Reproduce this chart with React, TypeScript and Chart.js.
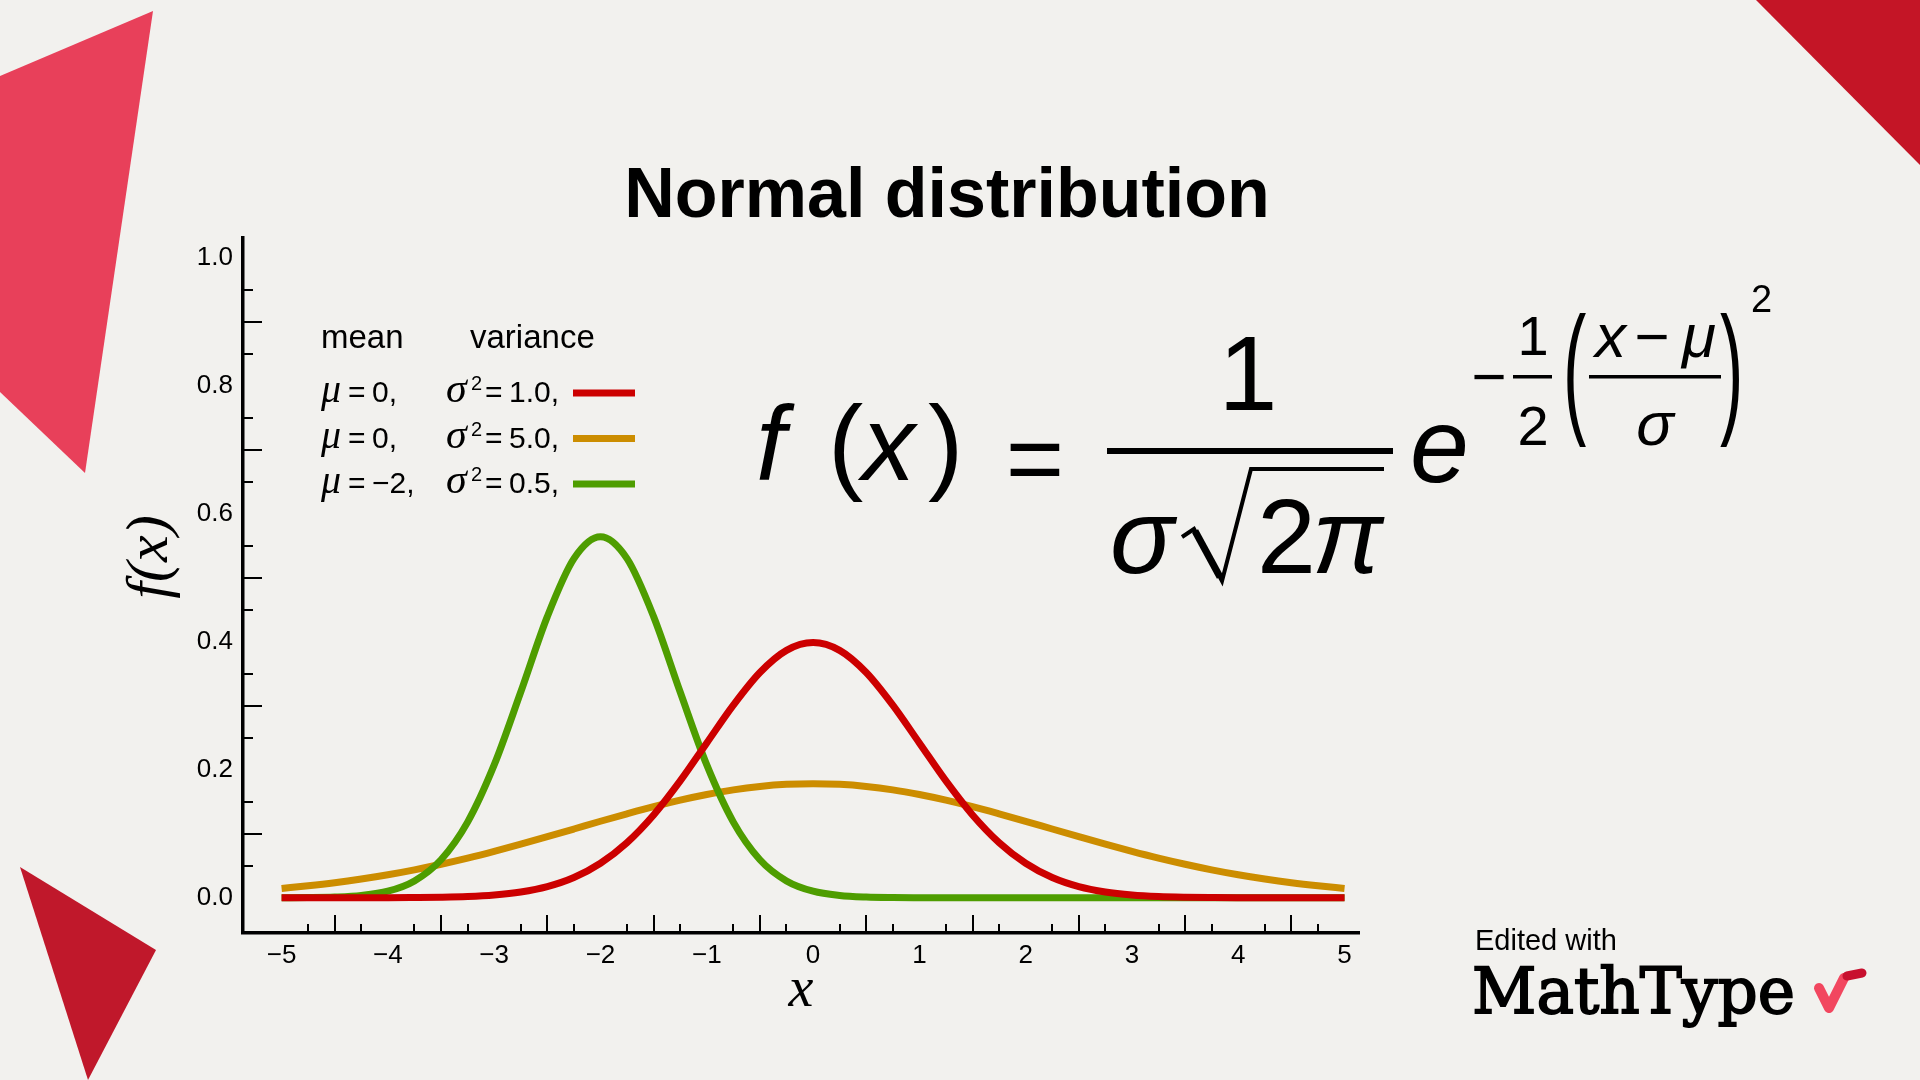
import React, { useEffect, useRef } from 'react';
import { Chart, registerables } from 'chart.js';

Chart.register(...registerables);

// ---------- data ----------
const X_VALUES = [
  -5, -4.75, -4.5, -4.25, -4, -3.75, -3.5, -3.25, -3, -2.75, -2.5, -2.25, -2, -1.75, -1.5, -1.25, -1, -0.75, -0.5, -0.25,
  0, 0.25, 0.5, 0.75, 1, 1.25, 1.5, 1.75, 2, 2.25, 2.5, 2.75, 3, 3.25, 3.5, 3.75, 4, 4.25, 4.5, 4.75, 5,
];

// mu = 0, sigma^2 = 1.0
const RED_VALUES = [
  0.0, 0.0, 0.0, 0.0001, 0.0001, 0.0004, 0.0009, 0.002, 0.0044, 0.0091, 0.0175, 0.0317, 0.054, 0.0863, 0.1295, 0.1826,
  0.242, 0.3011, 0.3521, 0.3867, 0.3989, 0.3867, 0.3521, 0.3011, 0.242, 0.1826, 0.1295, 0.0863, 0.054, 0.0317, 0.0175,
  0.0091, 0.0044, 0.002, 0.0009, 0.0004, 0.0001, 0.0001, 0.0, 0.0, 0.0,
];

// mu = 0, sigma^2 = 5.0
const ORANGE_VALUES = [
  0.0146, 0.0187, 0.0235, 0.0293, 0.036, 0.0437, 0.0524, 0.062, 0.0725, 0.0837, 0.0955, 0.1075, 0.1196, 0.1313, 0.1425,
  0.1526, 0.1614, 0.1687, 0.174, 0.1773, 0.1784, 0.1773, 0.174, 0.1687, 0.1614, 0.1526, 0.1425, 0.1313, 0.1196, 0.1075,
  0.0955, 0.0837, 0.0725, 0.062, 0.0524, 0.0437, 0.036, 0.0293, 0.0235, 0.0187, 0.0146,
];

// mu = -2, sigma^2 = 0.5
const GREEN_VALUES = [
  0.0001, 0.0003, 0.0011, 0.0036, 0.0103, 0.0264, 0.0595, 0.1183, 0.2076, 0.3215, 0.4394, 0.53, 0.5642, 0.53, 0.4394,
  0.3215, 0.2076, 0.1183, 0.0595, 0.0264, 0.0103, 0.0036, 0.0011, 0.0003, 0.0001, 0, 0, 0, 0, 0, 0, 0, 0, 0, 0, 0, 0, 0,
  0, 0, 0,
];

const SERIES_MEANS = ['0', '0', '\u22122'];
const SERIES_VARIANCES = ['1.0', '5.0', '0.5'];
const SERIES_COLORS = ['#cc0000', '#cc8d00', '#4e9d00'];

const X_LABEL_TICKS = [-5, -4, -3, -2, -1, 0, 1, 2, 3, 4, 5];
const X_SHORT_TICKS = [-4.75, -4.25, -3.75, -3.25, -2.75, -2.25, -1.75, -1.25, -0.75, -0.25, 0.25, 0.75, 1.25, 1.75, 2.25, 2.75, 3.25, 3.75, 4.25, 4.75];
const X_LONG_TICKS = [-4.5, -3.5, -2.5, -1.5, -0.5, 0.5, 1.5, 2.5, 3.5, 4.5];
const Y_LABEL_TICKS = [0, 0.2, 0.4, 0.6, 0.8, 1.0];
const Y_SHORT_TICKS = [0.05, 0.15, 0.25, 0.35, 0.45, 0.55, 0.65, 0.75, 0.85, 0.95];
const Y_LONG_TICKS = [0.1, 0.3, 0.5, 0.7, 0.9];

const BG = '#f2f1ee';
const SANS = '"Liberation Sans", Arial, sans-serif';
const SERIF = '"Liberation Serif", "Times New Roman", serif';

function toPoints(ys: number[]) {
  return X_VALUES.map((x, i) => ({ x, y: ys[i] }));
}

function text(ctx: CanvasRenderingContext2D, s: string, x: number, y: number, font: string, align: CanvasTextAlign = 'left') {
  ctx.font = font;
  ctx.textAlign = align;
  ctx.textBaseline = 'alphabetic';
  ctx.fillText(s, x, y);
}

function scaledText(ctx: CanvasRenderingContext2D, s: string, x: number, y: number, font: string, sx: number, sy: number) {
  ctx.save();
  ctx.translate(x, y);
  ctx.scale(sx, sy);
  text(ctx, s, 0, 0, font);
  ctx.restore();
}

const decorPlugin = {
  id: 'decor',
  beforeDraw(chart: any) {
    const ctx: CanvasRenderingContext2D = chart.ctx;
    ctx.save();
    ctx.fillStyle = '#e8405a';
    ctx.beginPath();
    ctx.moveTo(0, 76);
    ctx.lineTo(153, 11);
    ctx.lineTo(85, 473);
    ctx.lineTo(0, 392);
    ctx.closePath();
    ctx.fill();
    ctx.fillStyle = '#c0182b';
    ctx.beginPath();
    ctx.moveTo(20, 867);
    ctx.lineTo(156, 950);
    ctx.lineTo(88, 1080);
    ctx.closePath();
    ctx.fill();
    ctx.fillStyle = '#c41526';
    ctx.beginPath();
    ctx.moveTo(1756, 0);
    ctx.lineTo(1920, 0);
    ctx.lineTo(1920, 165);
    ctx.closePath();
    ctx.fill();
    ctx.restore();
  },
};

const overlayPlugin = {
  id: 'overlay',
  afterDraw(chart: any) {
    const ctx: CanvasRenderingContext2D = chart.ctx;
    const xs = chart.scales.x;
    const ys = chart.scales.y;
    const area = chart.chartArea;
    ctx.save();
    ctx.fillStyle = '#000';
    ctx.strokeStyle = '#000';

    // inward tick marks
    ctx.lineWidth = 2;
    const yTick = (v: number, len: number) => {
      const py = Math.round(ys.getPixelForValue(v));
      ctx.beginPath();
      ctx.moveTo(area.left, py);
      ctx.lineTo(area.left + len, py);
      ctx.stroke();
    };
    const xTick = (v: number, len: number) => {
      const px = Math.round(xs.getPixelForValue(v));
      ctx.beginPath();
      ctx.moveTo(px, area.bottom);
      ctx.lineTo(px, area.bottom - len);
      ctx.stroke();
    };
    Y_SHORT_TICKS.forEach((v) => yTick(v, 10));
    Y_LONG_TICKS.forEach((v) => yTick(v, 19));
    X_SHORT_TICKS.forEach((v) => xTick(v, 9));
    X_LONG_TICKS.forEach((v) => xTick(v, 18));

    // y axis title
    ctx.save();
    ctx.translate(151, 557);
    ctx.rotate(-Math.PI / 2);
    ctx.font = `italic 60px ${SERIF}`;
    ctx.textAlign = 'center';
    ctx.textBaseline = 'middle';
    ctx.fillText('f(x)', 0, 0);
    ctx.restore();

    // title
    text(ctx, 'Normal distribution', 947, 217, `bold 70px ${SANS}`, 'center');

    // legend
    text(ctx, 'mean', 321, 348, `33px ${SANS}`);
    text(ctx, 'variance', 470, 348, `33px ${SANS}`);
    SERIES_MEANS.forEach((m, i) => {
      const base = 402 + 45.5 * i;
      text(ctx, '\u03bc', 321, base, `italic 40px ${SERIF}`);
      text(ctx, '=', 348, base, `30px ${SANS}`);
      text(ctx, m + ',', 372, base, `30px ${SANS}`);
      text(ctx, '\u03c3', 446, base, `italic 42px ${SERIF}`);
      text(ctx, '2', 471, base - 12, `20px ${SANS}`);
      text(ctx, '=', 485, base, `30px ${SANS}`);
      text(ctx, SERIES_VARIANCES[i] + ',', 509, base, `30px ${SANS}`);
      ctx.strokeStyle = chart.data.datasets[i].borderColor;
      ctx.lineWidth = 7;
      ctx.beginPath();
      ctx.moveTo(573, base - 9);
      ctx.lineTo(635, base - 9);
      ctx.stroke();
    });

    // formula
    ctx.fillStyle = '#000';
    ctx.strokeStyle = '#000';
    const big = 106;
    text(ctx, 'f', 756, 480, `italic ${big}px ${SANS}`);
    text(ctx, '(', 828, 480, `${big}px ${SANS}`);
    text(ctx, 'x', 862, 480, `italic ${big}px ${SANS}`);
    text(ctx, ')', 928, 480, `${big}px ${SANS}`);
    text(ctx, '=', 1035, 493, `100px ${SANS}`, 'center');
    ctx.fillRect(1107, 448, 286, 6);
    text(ctx, '1', 1248, 410, `${big}px ${SANS}`, 'center');
    text(ctx, '\u03c3', 1110, 573, `italic ${big}px ${SANS}`);
    // radical
    ctx.lineJoin = 'miter';
    ctx.lineWidth = 4;
    ctx.beginPath();
    ctx.moveTo(1182, 537);
    ctx.lineTo(1194, 529);
    ctx.lineTo(1222, 581);
    ctx.lineTo(1251, 469);
    ctx.lineTo(1384, 469);
    ctx.stroke();
    ctx.lineWidth = 7;
    ctx.beginPath();
    ctx.moveTo(1195, 531);
    ctx.lineTo(1220, 577);
    ctx.stroke();
    text(ctx, '2', 1257, 573, `${big}px ${SANS}`);
    text(ctx, '\u03c0', 1312, 573, `italic ${big}px ${SANS}`);
    text(ctx, 'e', 1410, 482, `italic ${big}px ${SANS}`);
    // exponent
    text(ctx, '\u2212', 1489, 397, `60px ${SANS}`, 'center');
    text(ctx, '1', 1533, 355, `56px ${SANS}`, 'center');
    ctx.fillRect(1513, 375, 39, 3.5);
    text(ctx, '2', 1533, 445, `56px ${SANS}`, 'center');
    scaledText(ctx, '(', 1563, 417, `70px ${SANS}`, 1.0, 2.03);
    text(ctx, 'x', 1595, 357, `italic 62px ${SANS}`);
    text(ctx, '\u2212', 1652, 357, `60px ${SANS}`, 'center');
    text(ctx, '\u03bc', 1682, 357, `italic 62px ${SANS}`);
    ctx.fillRect(1589, 375, 132, 3.5);
    text(ctx, '\u03c3', 1655, 445, `italic 62px ${SANS}`, 'center');
    scaledText(ctx, ')', 1720, 417, `70px ${SANS}`, 1.0, 2.03);
    text(ctx, '2', 1751, 312, `38px ${SANS}`);

    // MathType logo
    text(ctx, 'Edited with', 1475, 950, `29px ${SANS}`);
    ctx.font = `64px "DejaVu Serif", serif`;
    ctx.textAlign = 'left';
    ctx.fillText('MathType', 1472, 1013, 323);
    ctx.lineWidth = 1.8;
    ctx.strokeText('MathType', 1472, 1013, 323);
    ctx.lineCap = 'round';
    ctx.lineJoin = 'round';
    ctx.strokeStyle = '#f2475f';
    ctx.lineWidth = 10;
    ctx.beginPath();
    ctx.moveTo(1819, 988);
    ctx.lineTo(1829, 1008);
    ctx.lineTo(1844, 978);
    ctx.stroke();
    ctx.strokeStyle = '#c8102e';
    ctx.lineWidth = 9;
    ctx.beginPath();
    ctx.moveTo(1847, 976);
    ctx.lineTo(1862, 973);
    ctx.stroke();

    ctx.restore();
  },
};

export default function App() {
  const ref = useRef<HTMLCanvasElement>(null);

  useEffect(() => {
    const canvas = ref.current;
    if (!canvas) return;
    const Y_AXIS_WIDTH = 100;
    const X_AXIS_HEIGHT = 92;
    const chart = new Chart(canvas, {
      type: 'line',
      data: {
        datasets: [
          {
            label: `\u03bc=${SERIES_MEANS[0]}, \u03c3\u00b2=${SERIES_VARIANCES[0]}`,
            data: toPoints(RED_VALUES),
            borderColor: SERIES_COLORS[0],
            order: 0,
          },
          {
            label: `\u03bc=${SERIES_MEANS[1]}, \u03c3\u00b2=${SERIES_VARIANCES[1]}`,
            data: toPoints(ORANGE_VALUES),
            borderColor: SERIES_COLORS[1],
            order: 2,
          },
          {
            label: `\u03bc=${SERIES_MEANS[2]}, \u03c3\u00b2=${SERIES_VARIANCES[2]}`,
            data: toPoints(GREEN_VALUES),
            borderColor: SERIES_COLORS[2],
            order: 1,
          },
        ],
      },
      options: {
        responsive: false,
        animation: false,
        devicePixelRatio: 1,
        layout: {
          padding: { left: 243 - Y_AXIS_WIDTH, top: 238, right: 1920 - 1359, bottom: 1080 - (933 + X_AXIS_HEIGHT) },
        },
        elements: {
          point: { radius: 0, hoverRadius: 0 },
          line: { borderWidth: 7, cubicInterpolationMode: 'monotone', borderCapStyle: 'butt', fill: false },
        },
        plugins: {
          legend: { display: false },
          tooltip: { enabled: false },
          title: { display: false },
        },
        scales: {
          x: {
            type: 'linear',
            min: -5.363,
            max: 5.136,
            afterFit: (s: any) => {
              s.height = X_AXIS_HEIGHT;
            },
            afterBuildTicks: (s: any) => {
              s.ticks = X_LABEL_TICKS.map((v) => ({ value: v }));
            },
            ticks: {
              padding: 7,
              color: '#000',
              font: { family: SANS, size: 26 },
              maxRotation: 0,
              autoSkip: false,
              callback: (v: any) => (Number(v) < 0 ? '\u2212' + Math.abs(Number(v)) : String(v)),
            },
            grid: { drawOnChartArea: false, drawTicks: false },
            border: { display: true, color: '#000', width: 3.5 },
            title: {
              display: true,
              text: 'x',
              color: '#000',
              font: { family: SERIF, size: 56, style: 'italic' },
              padding: 0,
            },
          },
          y: {
            type: 'linear',
            min: -0.055,
            max: 1.031,
            afterFit: (s: any) => {
              s.width = Y_AXIS_WIDTH;
            },
            afterBuildTicks: (s: any) => {
              s.ticks = Y_LABEL_TICKS.map((v) => ({ value: v }));
            },
            ticks: {
              padding: 10,
              color: '#000',
              font: { family: SANS, size: 26 },
              autoSkip: false,
              callback: (v: any) => Number(v).toFixed(1),
            },
            grid: { drawOnChartArea: false, drawTicks: false },
            border: { display: true, color: '#000', width: 3.5 },
          },
        },
      },
      plugins: [decorPlugin, overlayPlugin],
    } as any);
    return () => chart.destroy();
  }, []);

  return (
    <div style={{ position: 'fixed', left: 0, top: 0, width: 1920, height: 1080, background: BG, overflow: 'hidden' }}>
      <canvas ref={ref} width={1920} height={1080} style={{ display: 'block', width: 1920, height: 1080 }} />
    </div>
  );
}
